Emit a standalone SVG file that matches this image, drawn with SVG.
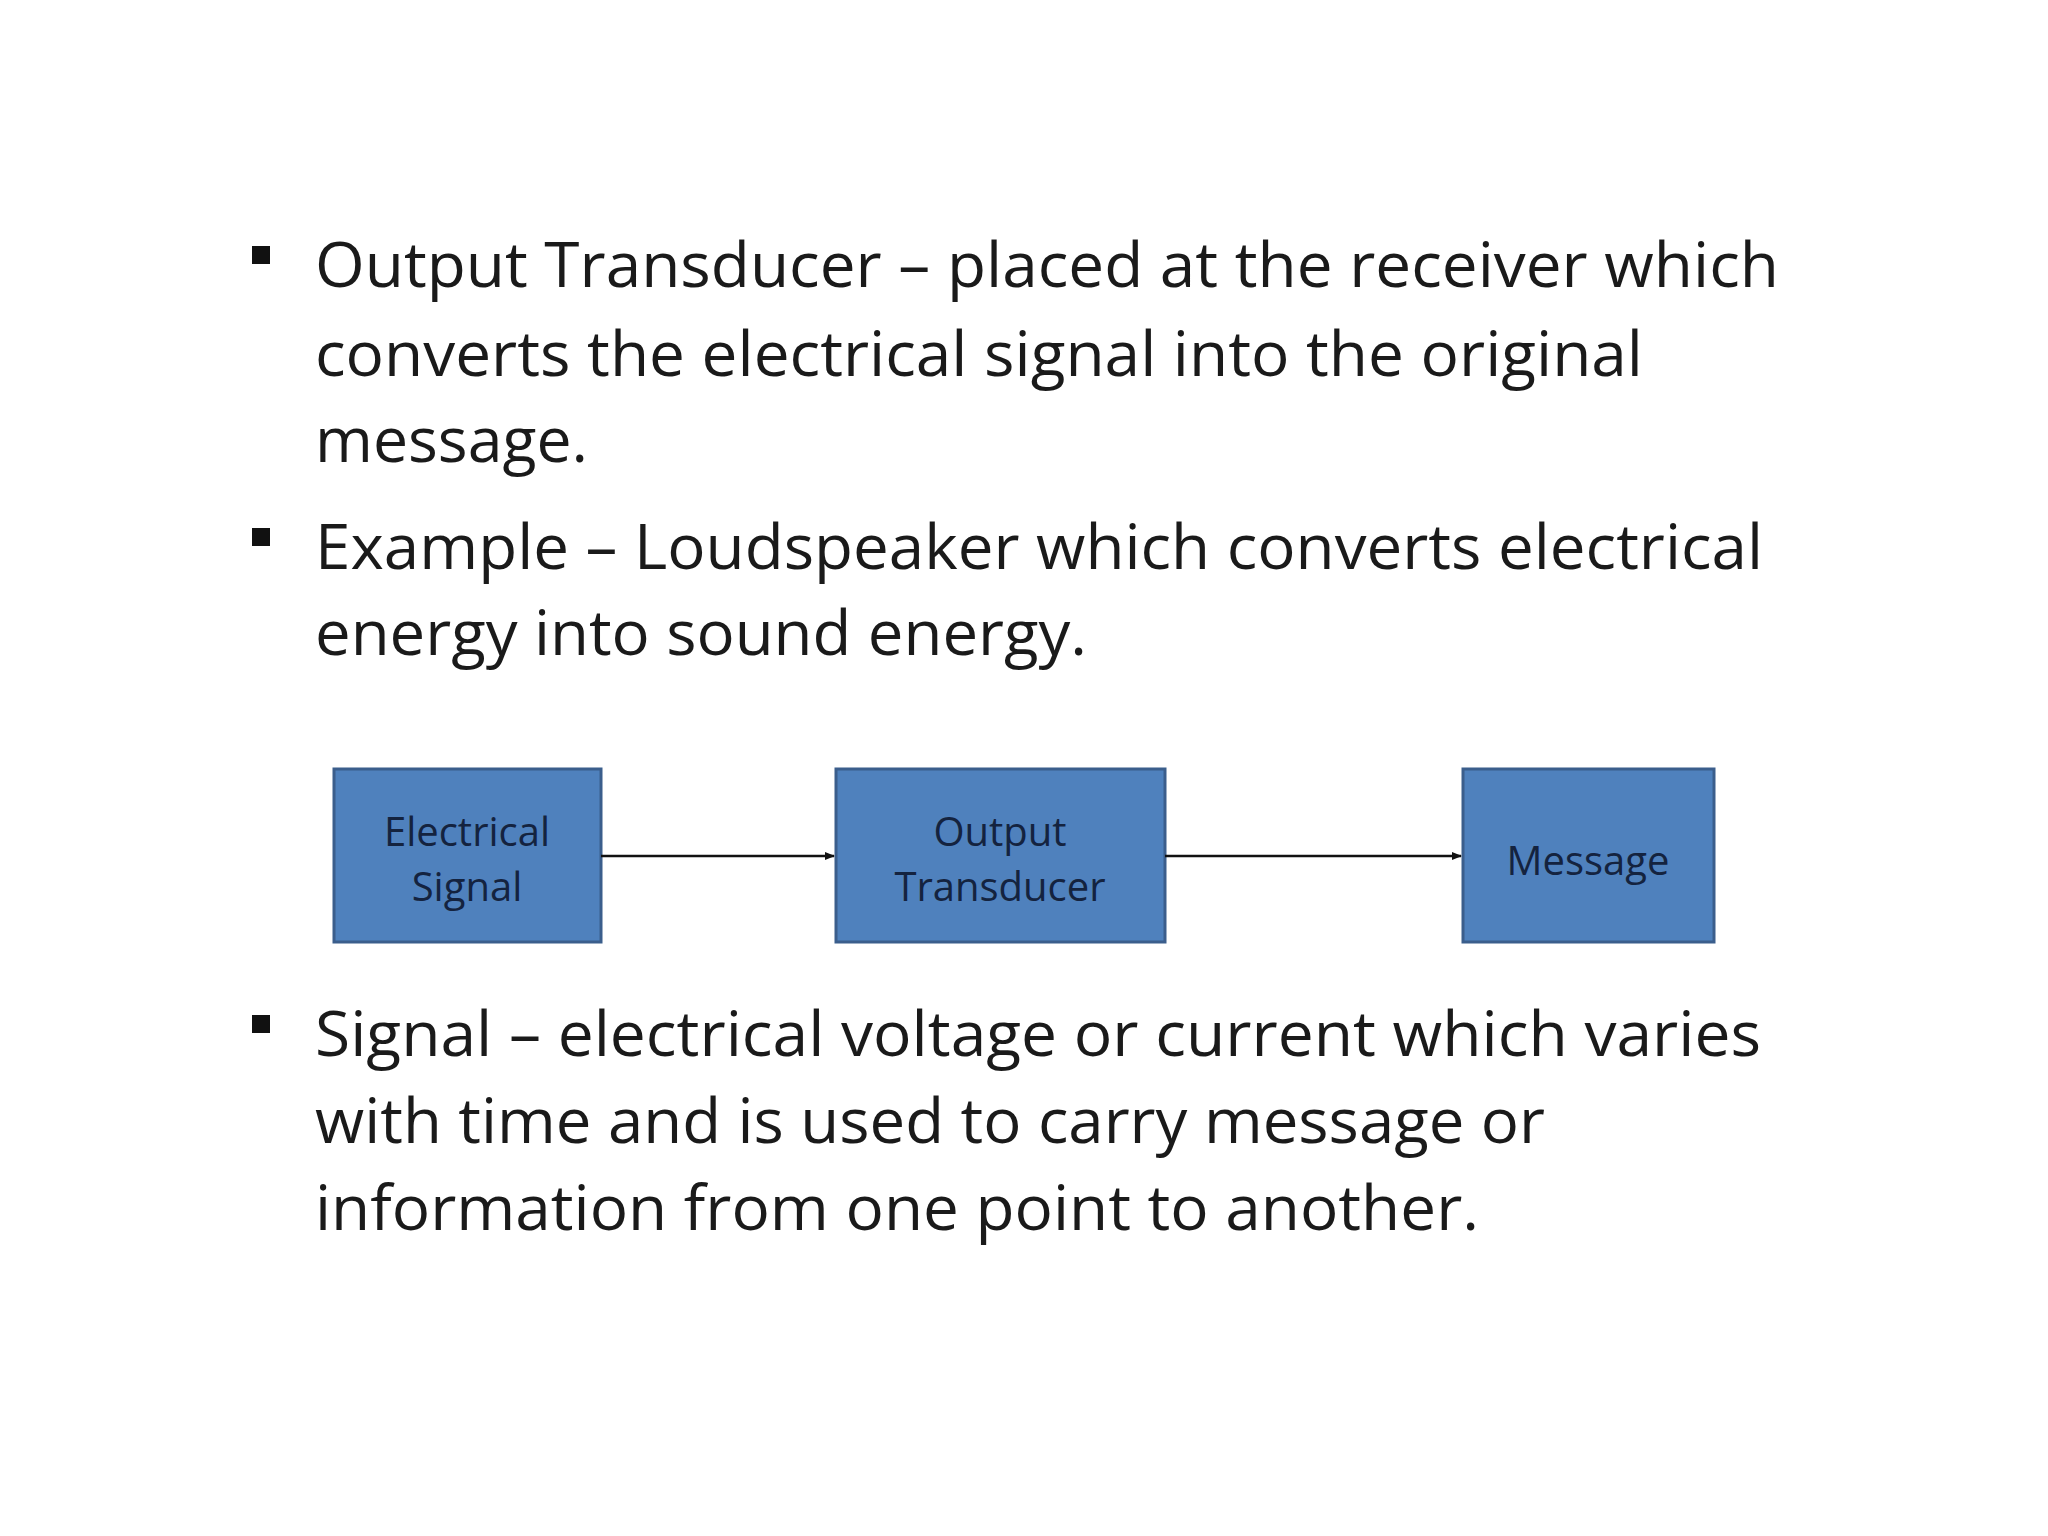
<svg xmlns="http://www.w3.org/2000/svg" width="2048" height="1536" viewBox="0 0 2048 1536">
<defs>
<style>
.t{font-family:"Open Sans","Noto Sans",sans-serif;font-size:62px;fill:#1a1a1a}
.b{fill:#4f81bd;stroke:#3b5e8c;stroke-width:3}
.bt{font-family:"Open Sans","Noto Sans",sans-serif;font-size:40px;fill:#14233f;text-anchor:middle}
.c{stroke:#111;stroke-width:2.5;fill:none;marker-end:url(#a)}
</style>
<marker id="a" markerWidth="10" markerHeight="8" refX="9" refY="4" orient="auto" markerUnits="userSpaceOnUse"><path d="M0,0L10,4L0,8z" fill="#111"/></marker>
</defs>
<rect width="2048" height="1536" fill="#fff"/>
<g id="bullets" fill="#111">
<rect x="252" y="246" width="18" height="18"/>
<rect x="252" y="528" width="18" height="18"/>
<rect x="252" y="1015" width="18" height="18"/>
</g>
<g id="text">
<text class="t" x="315" y="287" textLength="1464" lengthAdjust="spacingAndGlyphs">Output Transducer – placed at the receiver which</text>
<text class="t" x="315" y="376" textLength="1328" lengthAdjust="spacingAndGlyphs">converts the electrical signal into the original</text>
<text class="t" x="315" y="462" textLength="273" lengthAdjust="spacingAndGlyphs">message.</text>
<text class="t" x="315" y="569" textLength="1448" lengthAdjust="spacingAndGlyphs">Example – Loudspeaker which converts electrical</text>
<text class="t" x="315" y="655" textLength="772" lengthAdjust="spacingAndGlyphs">energy into sound energy.</text>
<text class="t" x="315" y="1056" textLength="1446" lengthAdjust="spacingAndGlyphs">Signal – electrical voltage or current which varies</text>
<text class="t" x="315" y="1143" textLength="1230" lengthAdjust="spacingAndGlyphs">with time and is used to carry message or</text>
<text class="t" x="315" y="1230" textLength="1164" lengthAdjust="spacingAndGlyphs">information from one point to another.</text>
</g>
<g id="n1"><rect class="b" x="334" y="769" width="267" height="173"/>
<text class="bt" x="467" y="846">Electrical</text><text class="bt" x="467" y="901">Signal</text></g>
<g id="n2"><rect class="b" x="836" y="769" width="329" height="173"/>
<text class="bt" x="1000" y="846">Output</text><text class="bt" x="1000" y="901">Transducer</text></g>
<g id="n3"><rect class="b" x="1463" y="769" width="251" height="173"/>
<text class="bt" x="1588" y="875">Message</text></g>
<g id="connectors">
<line class="c" x1="601" y1="856" x2="834" y2="856"/>
<line class="c" x1="1165" y1="856" x2="1461" y2="856"/>
</g>
</svg>
